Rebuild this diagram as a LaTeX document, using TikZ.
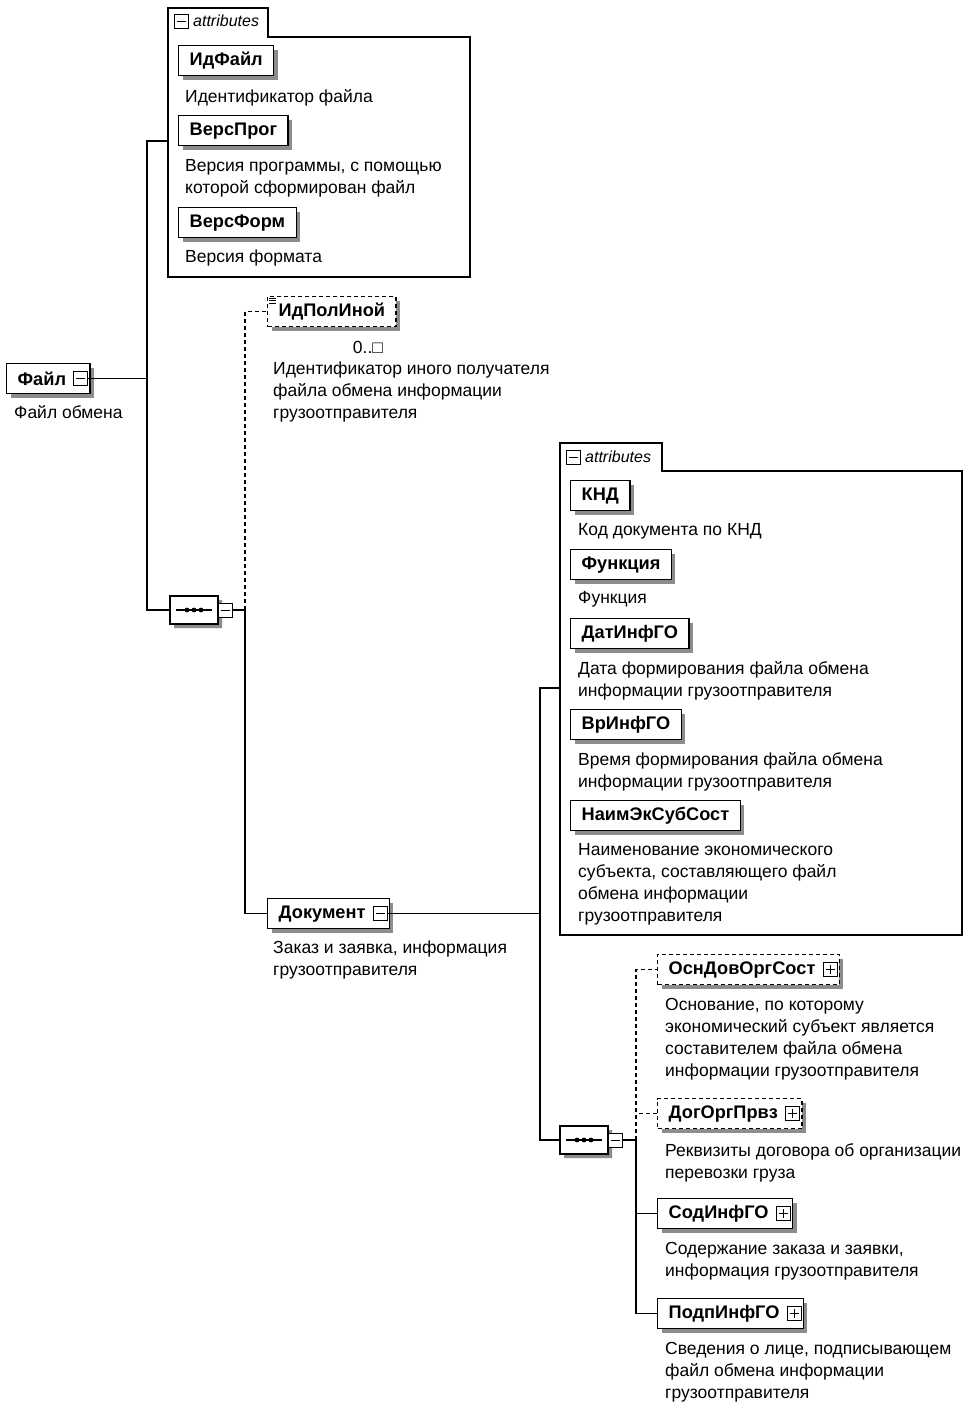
\documentclass[tikz,border=0pt]{standalone}
\usepackage{fontspec}
\setmainfont{Liberation Sans}
\usetikzlibrary{shadows,shapes.misc}

\newcommand{\descfont}{\fontsize{17.5}{22}\selectfont}
\newcommand{\elemfont}{\fontsize{18.2}{20}\selectfont\bfseries}
\newcommand{\attrfont}{\fontsize{16}{18}\selectfont\itshape}

% small expand / collapse boxes
\newcommand{\minusctrl}[2]{%
  \node[ctrl] (#1) at (#2) {};
  \draw[line width=1pt] ([xshift=-4.5pt]#1.center) -- ([xshift=4.5pt]#1.center);}
\newcommand{\plusctrl}[2]{%
  \node[ctrl] (#1) at (#2) {};
  \draw[line width=1pt] ([xshift=-4.5pt]#1.center) -- ([xshift=4.5pt]#1.center)
    ([yshift=-4.5pt]#1.center) -- ([yshift=4.5pt]#1.center);}

\tikzset{
  elem/.style={draw, line width=1.4pt, fill=white, font=\elemfont, inner xsep=11pt, inner ysep=0pt,
    minimum height=30pt, anchor=north west,
    drop shadow={shadow xshift=4pt, shadow yshift=-4pt, fill=black!45, opacity=1}},
  optelem/.style={elem, dash pattern=on 4pt off 3pt},
  desc/.style={anchor=north west, align=left, inner sep=0pt, font=\descfont},
  ctrl/.style={draw, fill=white, line width=1pt, minimum width=14pt, minimum height=14pt, inner sep=0pt},
  seqbox/.style={chamfered rectangle, chamfered rectangle xsep=8pt, chamfered rectangle ysep=8pt,
    draw, line width=1.2pt, fill=white, minimum width=48pt, minimum height=28pt, inner sep=0pt,
    drop shadow={shadow xshift=4pt, shadow yshift=-4pt, fill=black!45, opacity=1}},
  attrbox/.style={line width=1.3pt},
  wire/.style={line width=1.1pt}
}

\begin{document}
\begin{tikzpicture}[line cap=butt,line join=miter,x=1pt,y=-1pt]
\useasboundingbox[fill=white] (0,0) rectangle (969,1408);

% root element
\node[elem] (fajl) at (6,363) {Файл\hspace*{13pt}};
\minusctrl{fajlm}{[xshift=-10pt]fajl.east}
\node[desc] (fajld) at (14,405) {Файл обмена};

% attributes of Файл
\draw[attrbox] (168,277) -- (168,8) -- (268,8) -- (268,37) -- (470,37) -- (470,277) -- cycle;
\minusctrl{attr1m}{181,21}
\node[anchor=west, inner sep=0pt, font=\attrfont] (attr1t) at (193,21) {attributes};
\coordinate (attr1) at (168,141);
\node[elem] (idfajl) at (178,45) {ИдФайл};
\node[desc] (idfajld) at (185,89) {Идентификатор файла};
\node[elem] (versprog) at (178,115) {ВерсПрог};
\node[desc] (versprogd) at (185,159) {Версия программы, с помощью\\которой сформирован файл};
\node[elem] (versform) at (178,207) {ВерсФорм};
\node[desc] (versformd) at (185,250) {Версия формата};

% sequence of Файл
\node[seqbox] (seq1) at (194,610) {};
\draw[wire] ([xshift=-18pt]seq1.center) -- ([xshift=18pt]seq1.center);
\foreach \d in {-7,0,7}
  \fill ([xshift=\d pt]seq1.center) circle[radius=2.4pt];
\minusctrl{seq1m}{225,610}
\coordinate (tr1x) at (147,0);
\coordinate (tr1) at (fajl.east -| tr1x);
\coordinate (tr2) at (245,610);
\draw[wire] (fajlm.east) -- (tr1);
\draw[wire] (attr1) -| (tr1) |- (seq1.west);

\node[optelem] (idpol) at (267,296) {ИдПолИной};
\foreach \k in {0,2.5,5}
  \draw[line width=0.8pt] (269,298+\k) -- (276,298+\k);
\node[font=\descfont] (idpolocc) at (368,347) {0..□};
\node[desc] (idpold) at (273,362) {Идентификатор иного получателя\\файла обмена информации\\грузоотправителя};

\node[elem] (dok) at (267,898) {Документ\hspace*{13pt}};
\minusctrl{dokm}{[xshift=-10pt]dok.east}
\node[desc] (dokd) at (273,941) {Заказ и заявка, информация\\грузоотправителя};

\draw[wire] (seq1m.east) -- (tr2) |- (dok.west);
\draw[wire, dash pattern=on 4pt off 3pt] (tr2) |- (idpol.west);

% attributes of Документ
\draw[attrbox] (560,935) -- (560,443) -- (662,443) -- (662,471) -- (962,471) -- (962,935) -- cycle;
\minusctrl{attr2m}{573,457}
\node[anchor=west, inner sep=0pt, font=\attrfont] (attr2t) at (585,457) {attributes};
\coordinate (attr2) at (560,688);
\node[elem] (knd) at (570,480) {КНД};
\node[desc] (kndd) at (578,523) {Код документа по КНД};
\node[elem] (funk) at (570,549) {Функция};
\node[desc] (funkd) at (578,591) {Функция};
\node[elem] (datinf) at (570,618) {ДатИнфГО};
\node[desc] (datinfd) at (578,661) {Дата формирования файла обмена\\информации грузоотправителя};
\node[elem] (vrinf) at (570,709) {ВрИнфГО};
\node[desc] (vrinfd) at (578,752) {Время формирования файла обмена\\информации грузоотправителя};
\node[elem] (naim) at (570,800) {НаимЭкСубСост};
\node[desc] (naimd) at (578,843) {Наименование экономического\\субъекта, составляющего файл\\обмена информации\\грузоотправителя};

% sequence of Документ
\node[seqbox] (seq2) at (584,1140) {};
\draw[wire] ([xshift=-18pt]seq2.center) -- ([xshift=18pt]seq2.center);
\foreach \d in {-7,0,7}
  \fill ([xshift=\d pt]seq2.center) circle[radius=2.4pt];
\minusctrl{seq2m}{615,1140}
\coordinate (tr3x) at (540,0);
\coordinate (tr3) at (dok.east -| tr3x);
\coordinate (tr4) at (636,1140);
\draw[wire] (dokm.east) -- (tr3);
\draw[wire] (attr2) -| (tr3) |- (seq2.west);

\node[optelem] (osn) at (657,954) {ОснДовОргСост\hspace*{13pt}};
\plusctrl{osnp}{[xshift=-10pt]osn.east}
\node[desc] (osnd) at (665,998) {Основание, по которому\\экономический субъект является\\составителем файла обмена\\информации грузоотправителя};
\node[optelem] (dog) at (657,1098) {ДогОргПрвз\hspace*{13pt}};
\plusctrl{dogp}{[xshift=-10pt]dog.east}
\node[desc] (dogd) at (665,1143) {Реквизиты договора об организации\\перевозки груза};
\node[elem] (sod) at (657,1198) {СодИнфГО\hspace*{13pt}};
\plusctrl{sodp}{[xshift=-10pt]sod.east}
\node[desc] (sodd) at (665,1242) {Содержание заказа и заявки,\\информация грузоотправителя};
\node[elem] (podp) at (657,1298) {ПодпИнфГО\hspace*{13pt}};
\plusctrl{podpp}{[xshift=-10pt]podp.east}
\node[desc] (podpd) at (665,1342) {Сведения о лице, подписывающем\\файл обмена информации\\грузоотправителя};

\draw[wire] (seq2m.east) -- (tr4) |- (podp.west);
\draw[wire] (sod.west) -- (sod.west -| tr4);
\draw[wire, dash pattern=on 4pt off 3pt] (tr4) |- (osn.west);
\draw[wire, dash pattern=on 4pt off 3pt] (dog.west) -- (dog.west -| tr4);
\end{tikzpicture}
\end{document}
